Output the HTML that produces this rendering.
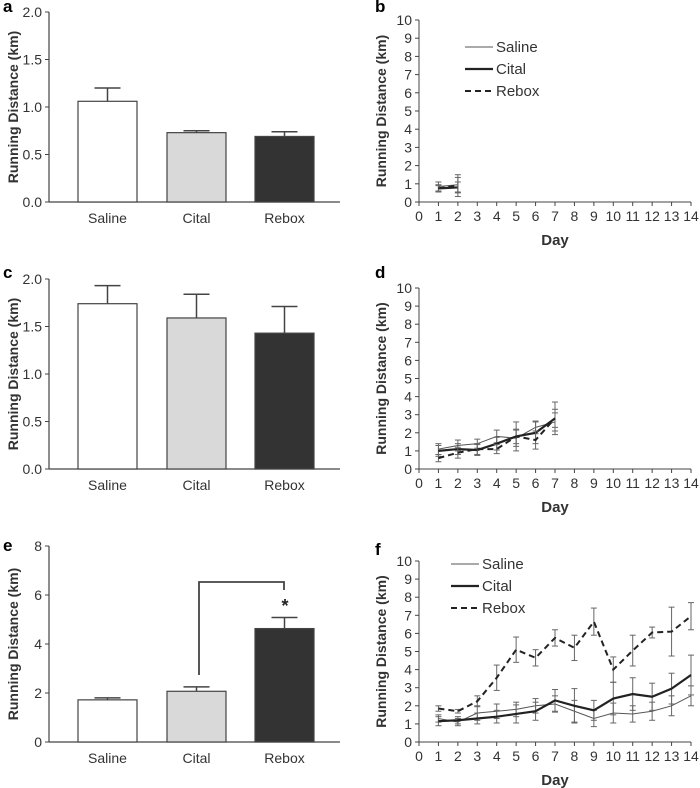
<!DOCTYPE html>
<html><head><meta charset="utf-8"><style>
body{margin:0;background:#fff}
svg{display:block;font-family:"Liberation Sans",sans-serif}
</style></head><body>
<svg id="fig" width="700" height="788" viewBox="0 0 700 788"></svg>
<script>
const barCats=["Saline","Cital","Rebox"];
const barFill=["#fff","#d9d9d9","#333"];
const aVals=[1.06,0.73,0.69], aErr=[0.14,0.02,0.05];
const cVals=[1.74,1.59,1.43], cErr=[0.19,0.25,0.28];
const eVals=[1.72,2.07,4.63], eErr=[0.08,0.18,0.45];
const aTicks=["0.0","0.5","1.0","1.5","2.0"];
const eTicks=["0","2","4","6","8"];
const dayTicks=[0,1,2,3,4,5,6,7,8,9,10,11,12,13,14];
const yLineTicks=[0,1,2,3,4,5,6,7,8,9,10];
const bSal=[0.85,0.95], bSalE=[0.25,0.4];
const bCit=[0.75,0.8], bCitE=[0.15,0.3];
const bReb=[0.75,0.9], bRebE=[0.2,0.6];
const dSal=[1.1,1.3,1.4,1.8,1.7,2.3,2.6], dSalE=[0.3,0.3,0.25,0.35,0.45,0.35,0.5];
const dCit=[1.0,1.1,1.05,1.4,1.8,2.0,2.8], dCitE=[0.3,0.3,0.3,0.35,0.4,0.6,0.5];
const dReb=[0.6,0.9,1.1,1.1,1.8,1.6,2.8], dRebE=[0.2,0.3,0.3,0.25,0.8,0.5,0.9];
const fSal=[1.3,1.1,1.6,1.7,1.8,2.0,2.1,1.7,1.3,1.6,1.55,1.7,2.0,2.55];
const fSalE=[0.2,0.2,0.4,0.4,0.4,0.4,0.45,0.6,0.45,0.55,0.45,0.5,0.55,0.55];
const fCit=[1.15,1.2,1.3,1.4,1.55,1.7,2.3,2.0,1.75,2.4,2.65,2.5,2.95,3.7];
const fCitE=[0.25,0.2,0.3,0.35,0.5,0.5,0.6,0.95,0.55,0.9,0.9,0.75,0.85,1.1];
const fReb=[1.85,1.7,2.25,3.55,5.1,4.65,5.75,5.2,6.65,4.0,5.05,6.05,6.1,6.95];
const fRebE=[0.15,0.1,0.3,0.7,0.7,0.45,0.45,0.7,0.75,0.7,0.85,0.3,1.35,0.75];

const svg=document.getElementById('fig');
const NS="http://www.w3.org/2000/svg";
function mk(tag,attrs,name,parent){const el=document.createElementNS(NS,tag);for(const k in attrs)el.setAttribute(k,attrs[k]);


(parent||svg).appendChild(el);return el;}
function txt(x,y,s,name,o){o=o||{};const t=mk('text',Object.assign({x:x,y:y,'font-size':o.fs||14,fill:'#333','text-anchor':o.anchor||'middle'},o.extra||{}),name);t.textContent=s;return t;}

function barPanel(letter,top,y0,yTop,max,ticks,vals,errs){
  const g=mk('g',{},'panel-'+letter);
  const ys=v=>y0-(v/max)*(y0-yTop);
  txt(3,top,letter,'panel-label-'+letter,{fs:17,anchor:'start',extra:{'font-weight':'bold',fill:'#000'}});
  mk('line',{x1:49,y1:yTop,x2:49,y2:y0,stroke:'#444','stroke-width':1.2},'y-axis',g);
  mk('line',{x1:49,y1:y0,x2:340,y2:y0,stroke:'#444','stroke-width':1.2},'x-axis',g);
  ticks.forEach((t,i)=>{const v=max*i/(ticks.length-1);const y=ys(v);
    mk('line',{x1:45,y1:y,x2:49,y2:y,stroke:'#444'},'y-tick',g);
    txt(42,y+5,t,'y-tick-label',{anchor:'end'});});
  txt(18,(y0+yTop)/2,'Running Distance (km)','y-axis-title',{extra:{'font-weight':'bold',transform:`rotate(-90 18 ${(y0+yTop)/2})`}});
  const lefts=[78,167,255];
  vals.forEach((v,i)=>{const x=lefts[i],w=59,cx=x+w/2;
    mk('line',{x1:cx,y1:ys(v),x2:cx,y2:ys(v+errs[i]),stroke:'#444','stroke-width':1.5},'error-bar',g);
    mk('line',{x1:cx-13,y1:ys(v+errs[i]),x2:cx+13,y2:ys(v+errs[i]),stroke:'#444','stroke-width':1.5},'error-cap',g);
    mk('rect',{x:x,y:ys(v),width:w,height:y0-ys(v),fill:barFill[i],stroke:'#444','stroke-width':1.2},'bar-'+barCats[i].toLowerCase(),g);
    txt(cx,y0+21,barCats[i],'x-tick-label');});
}
barPanel('a',12,202,12,2,aTicks,aVals,aErr);
barPanel('c',278,469,279,2,aTicks,cVals,cErr);
barPanel('e',551,742,546,8,eTicks,eVals,eErr);
mk('path',{d:'M199 675 V582 H284 V590',fill:'none',stroke:'#444','stroke-width':1.8},'significance-bracket');
txt(285,612,'*','significance-star',{fs:18,extra:{'font-weight':'bold',fill:'#222'}});

function linePanel(letter,top,y0,y10,series,legend){
  const g=mk('g',{},'panel-'+letter);
  const xs=d=>419+d*(691-419)/14, ys=v=>y0-v*(y0-y10)/10;
  txt(375,top,letter,'panel-label-'+letter,{fs:17,anchor:'start',extra:{'font-weight':'bold',fill:'#000'}});
  mk('line',{x1:419,y1:y10,x2:419,y2:y0,stroke:'#444'},'y-axis',g);
  mk('line',{x1:419,y1:y0,x2:691,y2:y0,stroke:'#444'},'x-axis',g);
  yLineTicks.forEach(v=>{mk('line',{x1:415,y1:ys(v),x2:419,y2:ys(v),stroke:'#444'},'y-tick',g);
    txt(412,ys(v)+5,String(v),'y-tick-label',{anchor:'end'});});
  dayTicks.forEach(d=>{mk('line',{x1:xs(d),y1:y0,x2:xs(d),y2:y0+4,stroke:'#444'},'x-tick',g);
    txt(xs(d),y0+19,String(d),'x-tick-label');});
  txt(555,y0+43,'Day','x-axis-title',{fs:15,extra:{'font-weight':'bold'}});
  const ym=(y0+y10)/2;
  txt(386,ym,'Running Distance (km)','y-axis-title',{extra:{'font-weight':'bold',transform:`rotate(-90 386 ${ym})`}});
  const styles=[{w:1,d:'',c:'#555'},{w:2.2,d:'',c:'#222'},{w:2,d:'6 4',c:'#222'}];
  const names=['saline','cital','rebox'];
  series.forEach((s,k)=>{
    s[0].forEach((v,i)=>{const x=xs(i+1);
      mk('line',{x1:x,y1:ys(v-s[1][i]),x2:x,y2:ys(v+s[1][i]),stroke:'#666','stroke-width':1},'error-bar',g);
      [v-s[1][i],v+s[1][i]].forEach(e=>mk('line',{x1:x-3,y1:ys(e),x2:x+3,y2:ys(e),stroke:'#666'},'error-cap',g));});
    mk('polyline',{points:s[0].map((v,i)=>xs(i+1)+','+ys(v)).join(' '),fill:'none',stroke:styles[k].c,'stroke-width':styles[k].w,'stroke-dasharray':styles[k].d},'line-'+names[k],g);
  });
  ['Saline','Cital','Rebox'].forEach((n,k)=>{const y=legend.y+k*22;
    mk('line',{x1:legend.x,y1:y,x2:legend.x+28,y2:y,stroke:styles[k].c,'stroke-width':styles[k].w,'stroke-dasharray':styles[k].d},'legend-swatch-'+names[k],g);
    txt(legend.x+31,y+5,n,'legend-entry-'+names[k],{fs:15,anchor:'start'});});
}
linePanel('b',12,202,20,[[bSal,bSalE],[bCit,bCitE],[bReb,bRebE]],{x:465,y:47});
linePanel('d',278,469,288,[[dSal,dSalE],[dCit,dCitE],[dReb,dRebE]],{x:0,y:-100});
linePanel('f',555,742,561,[[fSal,fSalE],[fCit,fCitE],[fReb,fRebE]],{x:451,y:564});
</script>
</body></html>
